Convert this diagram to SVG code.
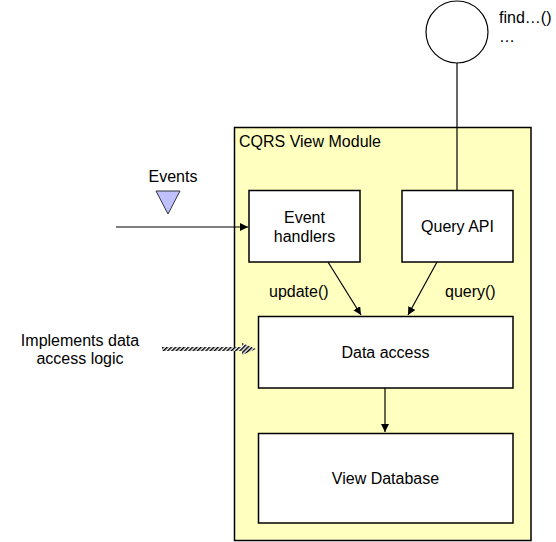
<svg xmlns="http://www.w3.org/2000/svg" width="556" height="542" viewBox="0 0 556 542">
<defs>
<style>
text{font-family:"Liberation Sans",Arial,sans-serif;font-size:16px;fill:#000}
.box{fill:#fff;stroke:#000;stroke-width:1.5}
.ln{stroke:#000;stroke-width:1.2;fill:none}
</style>
<marker id="ah" viewBox="0 0 10 10" refX="10" refY="5" markerWidth="8" markerHeight="8" markerUnits="userSpaceOnUse" orient="auto">
<path d="M0,0 L10,5 L0,10 z" fill="#000"/>
</marker>
<pattern id="hatch" width="3" height="3" patternUnits="userSpaceOnUse" patternTransform="rotate(45)">
<rect width="3" height="3" fill="#fff"/>
<rect width="1.5" height="3" fill="#000"/>
</pattern>
</defs>
<g id="module">
<rect x="234.5" y="127.5" width="296.5" height="413" fill="#ffffc0" stroke="#000" stroke-width="1.5"/>
<text x="239" y="147">CQRS View Module</text>
</g>
<g id="connectors">
<line class="ln" x1="457" y1="63" x2="457" y2="190"/>
<line class="ln" x1="116" y1="227" x2="248" y2="227" marker-end="url(#ah)"/>
<line class="ln" x1="328" y1="262" x2="361" y2="315" marker-end="url(#ah)"/>
<line class="ln" x1="437" y1="262" x2="408" y2="315" marker-end="url(#ah)"/>
<line class="ln" x1="385" y1="388" x2="385" y2="432" marker-end="url(#ah)"/>
<path d="M162,347 L242,347 L242,343 L256,349 L242,355 L242,351 L162,351 z" fill="url(#hatch)"/>
</g>
<g id="find">
<circle cx="457" cy="32" r="31" fill="#fff" stroke="#000" stroke-width="1.2"/>
<text x="499" y="23">find…()</text>
<text x="499" y="42">…</text>
</g>
<g id="events">
<text x="173" y="182" text-anchor="middle">Events</text>
<path d="M156,191 L180,191 L168,214 z" fill="#c0c0ff" stroke="#333" stroke-width="1"/>
</g>
<g id="implements">
<text x="80" y="346" text-anchor="middle">Implements data</text>
<text x="80" y="364" text-anchor="middle">access logic</text>
</g>
<g id="event-handlers">
<rect class="box" x="249" y="190.5" width="111" height="71.5"/>
<text x="304.5" y="223" text-anchor="middle">Event</text>
<text x="304.5" y="242" text-anchor="middle">handlers</text>
</g>
<g id="query-api">
<rect class="box" x="402" y="190.5" width="111" height="71.5"/>
<text x="457.5" y="232" text-anchor="middle">Query API</text>
</g>
<g id="labels">
<text x="269" y="297">update()</text>
<text x="445" y="297">query()</text>
</g>
<g id="data-access">
<rect class="box" x="258.5" y="316.5" width="254.5" height="71.5"/>
<text x="385.5" y="358" text-anchor="middle">Data access</text>
</g>
<g id="view-database">
<rect class="box" x="258.5" y="433.5" width="254.5" height="89.5"/>
<text x="385.5" y="484" text-anchor="middle">View Database</text>
</g>
</svg>
